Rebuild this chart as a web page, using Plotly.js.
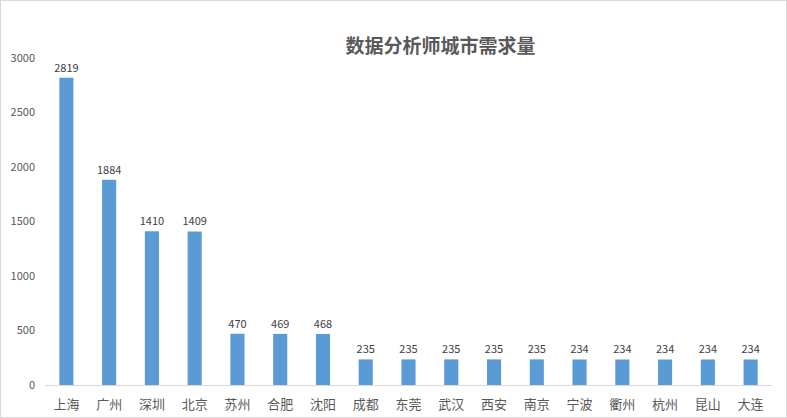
<!DOCTYPE html>
<html><head><meta charset="utf-8">
<script src="https://cdn.plot.ly/plotly-3.0.1.min.js"></script>
<style>html,body{margin:0;padding:0;background:#fff;}#chart{width:785px;height:416px;border:1px solid #d9d9d9;}</style>
</head><body><div id="chart"></div>
<script>
const cities = ["上海","广州","深圳","北京","苏州","合肥","沈阳","成都","东莞","武汉","西安","南京","宁波","衢州","杭州","昆山","大连"];
const demand = [2819,1884,1410,1409,470,469,468,235,235,235,235,235,234,234,234,234,234];
const yTicks = [0,500,1000,1500,2000,2500,3000];
const titleText = "数据分析师城市需求量";
const font = '"Noto Sans CJK SC", "Microsoft YaHei", sans-serif';

Plotly.newPlot('chart', [{
  type: 'bar', x: cities, y: demand,
  marker: {color: '#5b9bd5'},
  width: 0.33,
  text: demand.map(String), textposition: 'outside', cliponaxis: false, constraintext: 'none',
  textfont: {family: font, size: 11, color: '#404040'},
  hoverinfo: 'none'
}], {
  width: 785, height: 416,
  margin: {l: 44, r: 14, t: 57, b: 32},
  paper_bgcolor: '#ffffff', plot_bgcolor: '#ffffff',
  title: {text: '<b>' + titleText + '</b>', x: 0.56, xanchor: 'center', y: 0.89, yanchor: 'middle',
          font: {family: font, size: 19, color: '#595959'}},
  xaxis: {showline: true, linecolor: '#d9d9d9', linewidth: 1, ticks: '', showgrid: false, ticklabelstandoff: 7,
          tickfont: {family: font, size: 13, color: '#595959'}, tickangle: 0},
  yaxis: {range: [0, 3000], tickvals: yTicks, ticktext: yTicks.map(String), showgrid: false, zeroline: false,
          showline: false, ticks: '', ticklen: 0, ticklabelstandoff: 9,
          tickfont: {family: font, size: 11, color: '#595959'}},
  showlegend: false, bargap: 0.67
}, {displayModeBar: false, staticPlot: true});
</script></body></html>
